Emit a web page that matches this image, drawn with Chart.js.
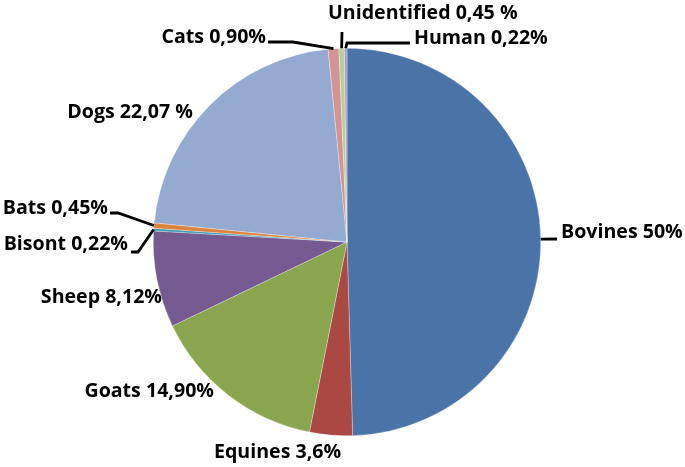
<!DOCTYPE html>
<html>
<head>
<meta charset="utf-8">
<script src="https://cdn.jsdelivr.net/npm/chart.js@4.4.1/dist/chart.umd.min.js"></script>
<style>
  body { margin: 0; background: #fff; }
</style>
</head>
<body>
<canvas id="pieChart" width="685" height="467"></canvas>
<script>
// data
const categories = ['Bovines', 'Equines', 'Goats', 'Sheep', 'Bisont', 'Bats', 'Dogs', 'Cats', 'Unidentified', 'Human'];
const shares = [50, 3.6, 14.90, 8.12, 0.22, 0.45, 22.07, 0.90, 0.45, 0.22];
const shareLabels = ['Bovines 50%', 'Equines 3,6%', 'Goats 14,90%', 'Sheep 8,12%', 'Bisont 0,22%',
    'Bats 0,45%', 'Dogs 22,07 %', 'Cats 0,90%', 'Unidentified 0,45 %', 'Human 0,22%'];

const colors = ['#4A74A8', '#AA4844', '#89A54E', '#745A90', '#4499B0', '#DB843D', '#95AAD0', '#D39594', '#BACE97', '#AB9DC0'];

// where each label sits (x, y, align) and the bends of its leader line, as offsets from the pie centre
const labelLayout = [
    { x: 561, y: 232, align: 'left',  lead: [[210, -3]] },
    { x: 214, y: 452, align: 'left',  lead: null },
    { x: 214, y: 391, align: 'right', lead: null },
    { x: 162, y: 297, align: 'right', lead: null },
    { x: 128, y: 244, align: 'right', lead: [[-209, 10], [-216, 10]] },
    { x: 108, y: 208, align: 'right', lead: [[-229, -29], [-237, -29]] },
    { x: 193, y: 112, align: 'right', lead: null },
    { x: 266, y: 37,  align: 'right', lead: [[-54, -200], [-79, -200]] },
    { x: 328, y: 13,  align: 'left',  lead: [[-5, -210]] },
    { x: 414, y: 38,  align: 'left',  lead: [[0, -199], [63, -199]] }
];

const labelPlugin = {
    id: 'sliceLabels',
    afterDraw(chart) {
        const ctx = chart.ctx;
        const arcs = chart.getDatasetMeta(0).data;
        ctx.save();
        ctx.strokeStyle = '#000';
        ctx.lineWidth = 2.8;
        ctx.lineJoin = 'miter';
        arcs.forEach((arc, i) => {
            const lay = labelLayout[i];
            if (!lay.lead) return;
            const mid = (arc.startAngle + arc.endAngle) / 2;
            const sx = arc.x + arc.outerRadius * Math.cos(mid);
            const sy = arc.y + arc.outerRadius * Math.sin(mid);
            ctx.beginPath();
            ctx.moveTo(sx, sy);
            lay.lead.forEach(p => ctx.lineTo(arc.x + p[0], arc.y + p[1]));
            ctx.stroke();
        });
        ctx.fillStyle = '#000';
        ctx.font = 'bold 19.6px "Open Sans"';
        ctx.textBaseline = 'middle';
        shareLabels.forEach((txt, i) => {
            const lay = labelLayout[i];
            ctx.textAlign = lay.align;
            ctx.fillText(txt, lay.x, lay.y);
        });
        ctx.restore();
    }
};

const ctx = document.getElementById('pieChart').getContext('2d');
const pieChart = new Chart(ctx, {
    type: 'pie',
    data: {
        labels: categories,
        datasets: [{
            data: shares,
            backgroundColor: colors,
            borderColor: 'rgba(255,255,255,0.6)',
            borderWidth: 0.5
        }]
    },
    options: {
        responsive: false,
        animation: false,
        layout: {
            padding: { left: 153, right: 144, top: 48, bottom: 31 }
        },
        plugins: {
            legend: { display: false },
            tooltip: { enabled: false }
        }
    },
    plugins: [labelPlugin]
});
</script>
</body>
</html>
